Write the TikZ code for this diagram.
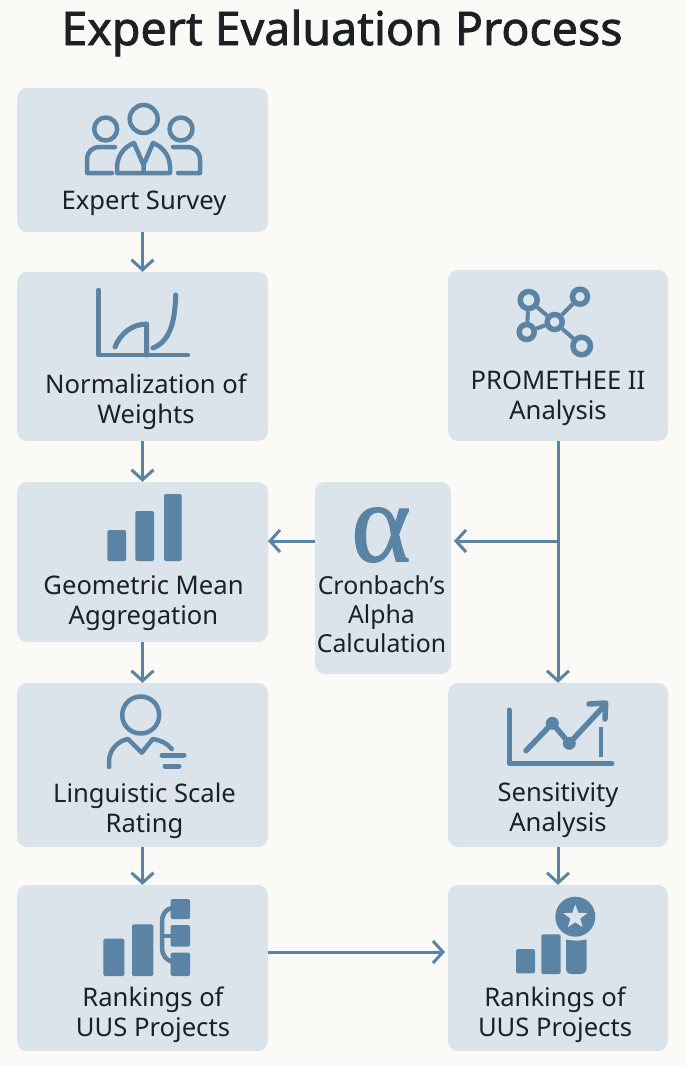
\documentclass[tikz,border=0pt]{standalone}
\usepackage{fontspec}
\setmainfont{Noto Sans}
\newfontfamily\alphafont[FakeBold=1]{Liberation Serif}
\newfontfamily\titlefont[FakeBold=1.6]{Noto Sans}
\usetikzlibrary{arrows.meta,shapes.geometric}
\definecolor{paper}{HTML}{FBFAF7}
\definecolor{boxfill}{HTML}{DBE4EA}
\definecolor{iconblue}{HTML}{5A83A4}
\definecolor{ink}{HTML}{1B2025}
\tikzset{
  wide/.style={fill=boxfill,rounded corners=10pt,inner sep=0pt,minimum width=251pt},
  side/.style={fill=boxfill,rounded corners=10pt,inner sep=0pt,minimum width=220pt},
  lbl/.style={text=ink,align=center,inner sep=0pt,font=\fontsize{25.6}{30}\selectfont},
  flow/.style={draw=iconblue,line width=3pt,-{Straight Barb[length=10pt,width=22pt,line width=3pt]}},
  icon/.style={draw=iconblue,line width=4.5pt,line cap=round,line join=round},
  bar/.style={fill=iconblue,rounded corners=1.5pt},
  hub/.style={circle,draw=iconblue,line width=5.5pt,inner sep=0pt}
}
\begin{document}
\begin{tikzpicture}[x=1pt,y=-1pt]
  \useasboundingbox (0,0) rectangle (685,1066);
  \fill[paper] (0,0) rectangle (685,1066);
  \node[text=ink,inner sep=0pt,font=\fontsize{46.5}{52}\selectfont\titlefont] (title) at (342,33) {Expert Evaluation Process};
% Boxes
  \node[wide,minimum height=144pt] (survey) at (142.5,160) {};
  \node[wide,minimum height=169pt] (norm) at (142.5,356.5) {};
  \node[wide,minimum height=160pt] (geo) at (142.5,562) {};
  \node[wide,minimum height=164pt] (ling) at (142.5,765) {};
  \node[wide,minimum height=166pt] (rankA) at (142.5,968) {};
  \node[side,minimum height=171pt] (prom) at (558,355.5) {};
  \node[fill=boxfill,rounded corners=10pt,inner sep=0pt,minimum width=136pt,minimum height=192pt] (cron) at (383,578) {};
  \node[side,minimum height=164pt] (sens) at (558,765) {};
  \node[side,minimum height=166pt] (rankB) at (558,968) {};
% Labels
  \node[lbl] (surveytxt) at (144,203) {Expert Survey};
  \node[lbl] (normtxt) at (146,402) {Normalization of\\Weights};
  \node[lbl] (geotxt) at (143.5,603) {Geometric Mean\\Aggregation};
  \node[lbl] (lingtxt) at (144.5,810.5) {Linguistic Scale\\Rating};
  \node[lbl] (rankAtxt) at (153,1015) {Rankings of\\UUS Projects};
  \node[lbl] (promtxt) at (558,398) {PROMETHEE II\\Analysis};
  \node[lbl,font=\fontsize{24.8}{29}\selectfont] (crontxt) at (381.5,614) {Cronbach’s\\Alpha\\Calculation};
  \node[lbl] (senstxt) at (558,810.5) {Sensitivity\\Analysis};
  \node[lbl] (rankBtxt) at (555,1015) {Rankings of\\UUS Projects};
% Connectors
  \coordinate (geoin) at (268,541);
  \coordinate (cronout) at (315,541);
  \coordinate (cronin) at (454,541);
  \coordinate (split) at (558,541);
  \coordinate (rankAout) at (268,952);
  \coordinate (rankBin) at (445,952);
  \draw[flow] (survey.south) -- (norm.north);
  \draw[flow] (norm.south) -- (geo.north);
  \draw[flow] (geo.south) -- (ling.north);
  \draw[flow] (ling.south) -- (rankA.north);
  \draw[flow] (cronout) -- (geoin);
  \draw[flow] (prom.south) -- (sens.north);
  \draw[flow] (split) -- (cronin);
  \draw[flow] (sens.south) -- (rankB.north);
  \draw[flow] (rankAout) -- (rankBin);
% Experts icon
  \draw[icon] (143.7,119) circle (14);
  \draw[icon,line width=4.5pt] (105.7,129) circle (11.5);
  \draw[icon,line width=4.5pt] (181,129) circle (11.5);
  \draw[icon] (115,147) -- (100,147) .. controls (92,147) and (87,152) .. (87,160) -- (87,173) -- (112,173);
  \draw[icon] (173,147) -- (187,147) .. controls (195,147) and (200,152) .. (200,160) -- (200,173) -- (178,173);
  \draw[icon] (143.5,173) -- (117,173) -- (117,166) .. controls (118,155) and (124,147) .. (134,143) -- (143.5,165) -- (153,143) .. controls (163,147) and (169,155) .. (170,166) -- (170,173) -- (143.5,173) -- (143.5,165);
% Curves icon
  \draw[icon] (98.7,290) -- (98.7,355) -- (188,355);
  \draw[icon,line width=5pt] (115,347) .. controls (120,334) and (132,324) .. (146.7,324) -- (146.7,355);
  \draw[icon,line width=5pt] (153,348) .. controls (168,342) and (175,326) .. (175.7,295);
% Network icon
  \node[hub,minimum size=17pt] (netA) at (528.7,300) {};
  \node[hub,minimum size=15pt] (netB) at (580,296.7) {};
  \node[hub,minimum size=15pt] (netC) at (526.7,332) {};
  \node[hub,minimum size=15pt] (netD) at (554.7,322) {};
  \node[hub,minimum size=17.5pt] (netE) at (581.7,346) {};
  \draw[iconblue,line width=4pt] (netA) -- (netC) (netA) -- (netD) (netC) -- (netD) (netD) -- (netB) (netD) -- (netE);
% Bars icon
  \fill[bar] (107.3,530) rectangle (126,561);
  \fill[bar] (135.3,511) rectangle (154,561);
  \fill[bar] (164,494) rectangle (181.7,561);
% Alpha glyph
  \node[text=iconblue,inner sep=0pt,font=\fontsize{114}{114}\selectfont\alphafont] (alphaicon) at (381,535) {α};
% Person icon
  \draw[icon] (140.7,715) circle (18.5);
  \draw[icon] (109,767) -- (109,760) .. controls (110,749) and (118,741) .. (128,739) -- (141.7,752.7) -- (152.7,739) .. controls (160,740) and (167,743) .. (171.7,749);
  \draw[icon,line width=5pt,line cap=round] (162,755) -- (184,755);
  \draw[icon,line width=5pt,line cap=round] (165,766) -- (179,766);
% Trend icon
  \draw[icon,line width=5pt] (509,710) -- (509,763.7) -- (612,763.7);
  \draw[icon,line width=5.5pt] (526,750.7) -- (552.3,723.3) -- (569.3,743.3) -- (603.3,706.7);
  \draw[icon,line width=5.5pt] (589,704) -- (605.7,703) -- (605,719);
  \fill[iconblue] (552.3,723.3) circle (6.5);
  \fill[iconblue] (569.3,743.3) circle (6.5);
  \draw[iconblue,line width=4pt] (601.3,727.3) -- (601.3,756.7);
% Ranking icon with branches
  \fill[bar] (103.3,938.7) rectangle (124.3,976);
  \fill[bar] (132,924.3) rectangle (153.3,976);
  \fill[bar] (170.7,899) rectangle (190,919);
  \fill[bar] (170.7,925) rectangle (190,946.7);
  \fill[bar] (170.7,952.7) rectangle (190,976);
  \draw[iconblue,line width=4.5pt] (172,908) .. controls (166,909) and (162,914) .. (162,922) -- (162,948) .. controls (162,955) and (166,960) .. (172,961.7);
  \draw[iconblue,line width=4.5pt] (162,936) -- (172,936);
% Ranking icon with star
  \fill[bar] (516,949) rectangle (535,973.3);
  \fill[bar] (541.3,934.3) rectangle (560.7,974);
  \fill[iconblue] (566,939.5) .. controls (573,941) and (580,941) .. (586.7,939.5) -- (586.7,968) .. controls (586.7,972) and (584,974) .. (580,974) -- (572,974) .. controls (568,974) and (566,972) .. (566,968) -- cycle;
  \node[circle,fill=iconblue,inner sep=0pt,minimum size=40pt] (badge) at (575.3,916.7) {};
  \node[star,star points=5,star point ratio=2.4,fill=boxfill,inner sep=0pt,minimum size=25pt] (badgestar) at (575.3,917) {};
\end{tikzpicture}
\end{document}
